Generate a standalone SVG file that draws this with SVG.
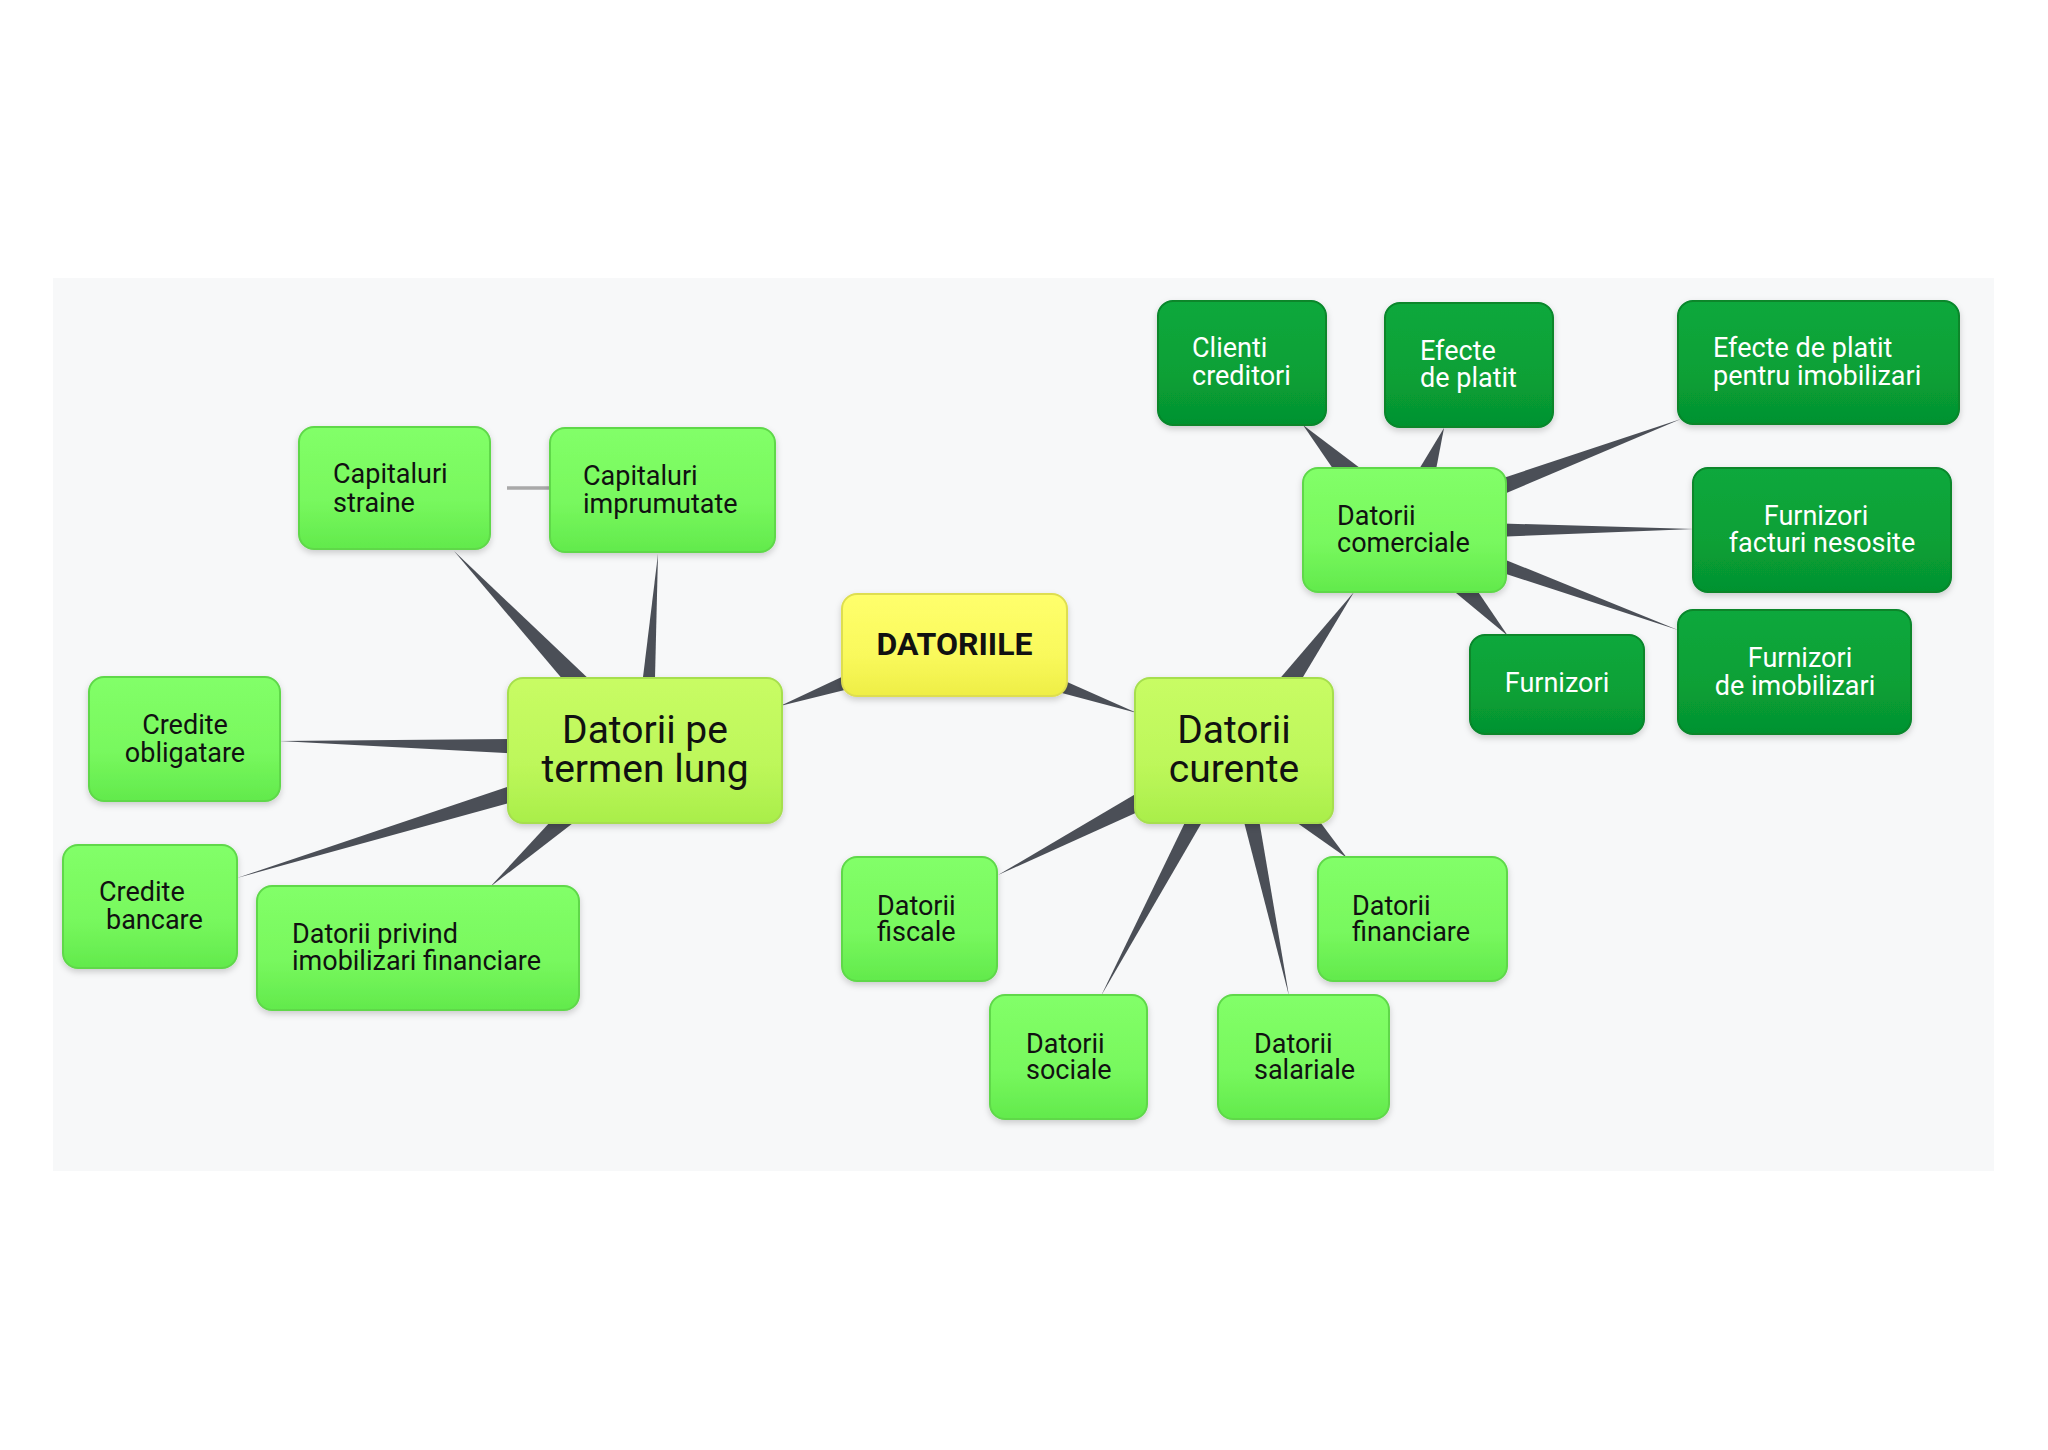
<svg xmlns="http://www.w3.org/2000/svg" width="2048" height="1450" viewBox="0 0 2048 1450">
<defs>
<linearGradient id="gLight" x1="0" y1="0" x2="0" y2="1"><stop offset="0" stop-color="#82ff68"/><stop offset="0.6" stop-color="#78f85e"/><stop offset="1" stop-color="#62ea4c"/></linearGradient>
<linearGradient id="gLime" x1="0" y1="0" x2="0" y2="1"><stop offset="0" stop-color="#c8fc64"/><stop offset="0.6" stop-color="#bdf75a"/><stop offset="1" stop-color="#a9ee4a"/></linearGradient>
<linearGradient id="gYellow" x1="0" y1="0" x2="0" y2="1"><stop offset="0" stop-color="#ffff6c"/><stop offset="0.6" stop-color="#f9f95c"/><stop offset="1" stop-color="#eeee46"/></linearGradient>
<linearGradient id="gDark" x1="0" y1="0" x2="0" y2="1"><stop offset="0" stop-color="#0aa83c"/><stop offset="0.6" stop-color="#08a036"/><stop offset="1" stop-color="#05922f"/></linearGradient>
<filter id="sh" x="-10%" y="-10%" width="120%" height="130%"><feDropShadow dx="0" dy="3" stdDeviation="3" flood-color="#000" flood-opacity="0.18"/></filter>
<style>
.light{fill:url(#gLight);stroke:#5ed84a;stroke-width:2;filter:url(#sh)}
.lime{fill:url(#gLime);stroke:#a6df4e;stroke-width:2;filter:url(#sh)}
.yellow{fill:url(#gYellow);stroke:#dede50;stroke-width:2;filter:url(#sh)}
.dark{fill:url(#gDark);stroke:#07862b;stroke-width:2;filter:url(#sh)}
text{font-family:Roboto,"Liberation Sans",sans-serif;font-size:27px;fill:#111}
.w{fill:#ffffff}
.big{font-size:39px}
.root{font-size:32px;font-weight:bold}
.c{text-anchor:middle}
.wedge{fill:#4b4f57}
</style>
</defs>
<rect x="0" y="0" width="2048" height="1450" fill="#ffffff"/>
<rect x="53" y="278" width="1941" height="893" fill="#f7f8f9"/>
<g id="connectors">
<polygon class="wedge" points="850.7,672.7 780,706 855.9,687.3"/>
<polygon class="wedge" points="1052.4,690.6 1137,713 1057.0,677.4"/>
<polygon class="wedge" points="589.6,679.7 454,551 574.8,693.7"/>
<polygon class="wedge" points="654.7,690.5 658,554 641.5,689.5"/>
<polygon class="wedge" points="520.2,738.9 279,741 519.8,753.7"/>
<polygon class="wedge" points="517.1,783.5 237,878 521.9,799.5"/>
<polygon class="wedge" points="562.8,808.3 490,887 575.0,821.5"/>
<polygon class="wedge" points="1141.5,790.4 998,875 1149.9,806.6"/>
<polygon class="wedge" points="1191.6,808.7 1101,996 1205.6,816.1"/>
<polygon class="wedge" points="1241.7,813.0 1289,996 1257.3,809.6"/>
<polygon class="wedge" points="1295.5,821.7 1347,858 1309.3,807.5"/>
<polygon class="wedge" points="1293.1,693.6 1354,592 1276.9,681.9"/>
<polygon class="wedge" points="1359.6,467.8 1303,425 1343.0,483.6"/>
<polygon class="wedge" points="1433.7,481.7 1444,428 1415.7,474.7"/>
<polygon class="wedge" points="1497.6,496.7 1681,419 1492.0,481.7"/>
<polygon class="wedge" points="1494,537 1694,529 1494,523.2"/>
<polygon class="wedge" points="1492.3,569.4 1678,630 1497.1,556.4"/>
<polygon class="wedge" points="1452.4,590.0 1508,636 1467.5,576.3"/>
<line x1="507" y1="488" x2="551" y2="488" stroke="#a9a9a9" stroke-width="3.5"/>
</g>
<g id="n-datoriile"><rect class="yellow" x="842" y="594" width="225" height="102" rx="15"/><text class="root c" x="954.5" y="655">DATORIILE</text></g>
<g id="n-termen"><rect class="lime" x="508" y="678" width="274" height="145" rx="15"/><text class="big c" x="645" y="743">Datorii pe</text><text class="big c" x="645" y="782">termen lung</text></g>
<g id="n-curente"><rect class="lime" x="1135" y="678" width="198" height="145" rx="15"/><text class="big c" x="1234" y="743">Datorii</text><text class="big c" x="1234" y="782">curente</text></g>
<g id="n-straine"><rect class="light" x="299" y="427" width="191" height="122" rx="15"/><text x="333" y="483">Capitaluri</text><text x="333" y="512">straine</text></g>
<g id="n-imprumutate"><rect class="light" x="550" y="428" width="225" height="124" rx="15"/><text x="583" y="485">Capitaluri</text><text x="583" y="513">imprumutate</text></g>
<g id="n-obligatare"><rect class="light" x="89" y="677" width="191" height="124" rx="15"/><text class="c" x="185" y="734">Credite</text><text class="c" x="185" y="762">obligatare</text></g>
<g id="n-bancare"><rect class="light" x="63" y="845" width="174" height="123" rx="15"/><text x="99" y="901">Credite</text><text x="106" y="929">bancare</text></g>
<g id="n-privind"><rect class="light" x="257" y="886" width="322" height="124" rx="15"/><text x="292" y="943">Datorii privind</text><text x="292" y="970">imobilizari financiare</text></g>
<g id="n-fiscale"><rect class="light" x="842" y="857" width="155" height="124" rx="15"/><text x="877" y="915">Datorii</text><text x="877" y="941">fiscale</text></g>
<g id="n-sociale"><rect class="light" x="990" y="995" width="157" height="124" rx="15"/><text x="1026" y="1053">Datorii</text><text x="1026" y="1079">sociale</text></g>
<g id="n-salariale"><rect class="light" x="1218" y="995" width="171" height="124" rx="15"/><text x="1254" y="1053">Datorii</text><text x="1254" y="1079">salariale</text></g>
<g id="n-financiare"><rect class="light" x="1318" y="857" width="189" height="124" rx="15"/><text x="1352" y="915">Datorii</text><text x="1352" y="941">financiare</text></g>
<g id="n-comerciale"><rect class="light" x="1303" y="468" width="203" height="124" rx="15"/><text x="1337" y="525">Datorii</text><text x="1337" y="552">comerciale</text></g>
<g id="n-clienti"><rect class="dark" x="1158" y="301" width="168" height="124" rx="15"/><text class="w" x="1192" y="357">Clienti</text><text class="w" x="1192" y="385">creditori</text></g>
<g id="n-efecte"><rect class="dark" x="1385" y="303" width="168" height="124" rx="15"/><text class="w" x="1420" y="360">Efecte</text><text class="w" x="1420" y="387">de platit</text></g>
<g id="n-efecte-imob"><rect class="dark" x="1678" y="301" width="281" height="123" rx="15"/><text class="w" x="1713" y="357">Efecte de platit</text><text class="w" x="1713" y="385">pentru imobilizari</text></g>
<g id="n-nesosite"><rect class="dark" x="1693" y="468" width="258" height="124" rx="15"/><text class="w c" x="1816" y="525">Furnizori</text><text class="w c" x="1822" y="552">facturi nesosite</text></g>
<g id="n-furnizori-imob"><rect class="dark" x="1678" y="610" width="233" height="124" rx="15"/><text class="w c" x="1800" y="667">Furnizori</text><text class="w c" x="1795" y="695">de imobilizari</text></g>
<g id="n-furnizori"><rect class="dark" x="1470" y="635" width="174" height="99" rx="15"/><text class="w c" x="1557" y="692">Furnizori</text></g>
</svg>
